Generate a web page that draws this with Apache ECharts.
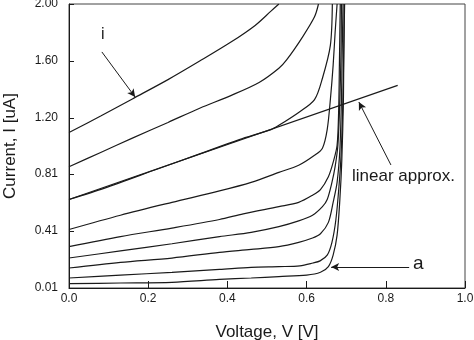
<!DOCTYPE html>
<html>
<head>
<meta charset="utf-8">
<script src="https://cdn.jsdelivr.net/npm/echarts@6/dist/echarts.min.js"></script>
<style>
html,body{margin:0;padding:0;background:#fff;}
#chart{width:474px;height:340px;}
</style>
</head>
<body>
<div id="chart"></div>
<script>
// Voltage (V) / current (uA) points, curves a..i (bottom to top)
const voltsA = [0, 0.13, 0.26, 0.38, 0.46, 0.53, 0.60, 0.635, 0.655, 0.667, 0.677, 0.684, 0.689, 0.693, 0.694, 0.696];
const currA  = [0.04, 0.045, 0.05, 0.07, 0.08, 0.09, 0.10, 0.12, 0.16, 0.24, 0.38, 0.63, 0.91, 1.33, 1.68, 2.00];
const voltsB = [0, 0.13, 0.26, 0.38, 0.46, 0.53, 0.583, 0.616, 0.634, 0.652, 0.664, 0.674, 0.682, 0.687, 0.691, 0.694, 0.695];
const currB  = [0.08, 0.10, 0.12, 0.14, 0.155, 0.16, 0.165, 0.185, 0.20, 0.24, 0.33, 0.49, 0.73, 0.94, 1.26, 1.68, 2.00];
const voltsC = [0, 0.13, 0.26, 0.38, 0.46, 0.53, 0.58, 0.615, 0.635, 0.655, 0.667, 0.677, 0.684, 0.688, 0.690, 0.692];
const currC  = [0.15, 0.19, 0.22, 0.26, 0.28, 0.30, 0.33, 0.36, 0.39, 0.47, 0.61, 0.75, 0.98, 1.33, 1.68, 2.00];
const voltsD = [0, 0.13, 0.26, 0.38, 0.46, 0.53, 0.58, 0.615, 0.64, 0.652, 0.664, 0.672, 0.679, 0.684, 0.687, 0.688];
const currD  = [0.22, 0.27, 0.32, 0.37, 0.40, 0.44, 0.48, 0.52, 0.58, 0.63, 0.75, 0.86, 1.01, 1.33, 1.68, 2.00];
const voltsE = [0, 0.13, 0.26, 0.38, 0.44, 0.53, 0.58, 0.615, 0.635, 0.655, 0.667, 0.677, 0.681, 0.683, 0.685];
const currE  = [0.30, 0.37, 0.43, 0.49, 0.53, 0.58, 0.61, 0.66, 0.70, 0.79, 0.89, 1.01, 1.26, 1.61, 2.00];
const voltsF = [0, 0.13, 0.26, 0.38, 0.46, 0.53, 0.58, 0.62, 0.64, 0.652, 0.66, 0.667, 0.672, 0.677];
const currF  = [0.42, 0.52, 0.61, 0.69, 0.75, 0.82, 0.87, 0.94, 0.99, 1.12, 1.33, 1.57, 1.80, 2.00];
const voltsG = [0, 0.09, 0.22, 0.33, 0.43, 0.51, 0.53, 0.58, 0.62, 0.64, 0.66, 0.665];
const currG  = [0.63, 0.71, 0.84, 0.95, 1.05, 1.12, 1.15, 1.24, 1.33, 1.48, 1.71, 2.00];
const voltsH = [0, 0.08, 0.16, 0.25, 0.33, 0.41, 0.48, 0.53, 0.55, 0.59, 0.62, 0.63];
const currH  = [0.86, 0.96, 1.06, 1.17, 1.27, 1.36, 1.45, 1.55, 1.61, 1.77, 1.91, 2.00];
const voltsI = [0, 0.08, 0.16, 0.25, 0.33, 0.41, 0.47, 0.51, 0.53];
const currI  = [1.10, 1.215, 1.335, 1.47, 1.60, 1.735, 1.85, 1.95, 2.00];
// linear approximation line (end points)
const voltsLin = [0, 0.83];
const currLin  = [0.63, 1.43];
// tick labels
const xTicks = [0.0, 0.2, 0.4, 0.6, 0.8, 1.0];
const yTicks = [0.01, 0.41, 0.81, 1.20, 1.60, 2.00];
// annotation arrows [fromV, fromI, toV, toI]
const arrowI   = [0.083, 1.664, 0.167, 1.348];
const arrowLin = [0.813, 0.872, 0.732, 1.313];
const arrowA   = [0.859, 0.157, 0.662, 0.157];

const FONT = '"Liberation Sans", Arial, sans-serif';
const INK = '#1a1a1a';

function pairs(v, c) { return v.map((x, i) => [x, c[i]]); }
const curves = [
  pairs(voltsA, currA), pairs(voltsB, currB), pairs(voltsC, currC),
  pairs(voltsD, currD), pairs(voltsE, currE), pairs(voltsF, currF),
  pairs(voltsG, currG), pairs(voltsH, currH), pairs(voltsI, currI)
];

function arrowLine(a) {
  return [{ coord: [a[0], a[1]] }, { coord: [a[2], a[3]] }];
}

const series = curves.map(d => ({
  type: 'line', data: d, showSymbol: false, smooth: 0.3,
  lineStyle: { color: INK, width: 1.2 }, silent: true, clip: true
}));
series.push({
  type: 'line', data: pairs(voltsLin, currLin), showSymbol: false,
  lineStyle: { color: INK, width: 1.2 }, silent: true,
  markLine: {
    silent: true, symbol: ['none', 'arrow'], symbolSize: [6, 8],
    lineStyle: { color: INK, width: 1, type: 'solid' },
    label: { show: false },
    data: [arrowLine(arrowI), arrowLine(arrowLin), arrowLine(arrowA)]
  }
});

const chart = echarts.init(document.getElementById('chart'), null, { renderer: 'canvas' });
chart.setOption({
  animation: false,
  backgroundColor: '#fff',
  grid: { left: 69, right: 9, top: 4, bottom: 52, show: true, borderColor: '#444', borderWidth: 1,
    containLabel: false, outerBoundsMode: 'none' },
  xAxis: {
    type: 'value', min: 0, max: 1, interval: 0.2,
    name: 'Voltage, V [V]', nameLocation: 'middle', nameGap: 36,
    nameTextStyle: { fontFamily: FONT, fontSize: 17, color: INK },
    axisLine: { lineStyle: { color: INK, width: 1 } },
    axisTick: { inside: true, length: 7, lineStyle: { color: INK } },
    axisLabel: { fontFamily: FONT, fontSize: 12, color: INK, margin: 5,
      customValues: xTicks, formatter: v => v.toFixed(1) },
    splitLine: { show: false }
  },
  yAxis: {
    type: 'value', min: 0.01, max: 2.0,
    name: 'Current, I [uA]', nameLocation: 'middle', nameGap: 50,
    nameTextStyle: { fontFamily: FONT, fontSize: 17, color: INK },
    axisLine: { show: true, lineStyle: { color: INK, width: 1 } },
    axisTick: { inside: true, length: 5, customValues: yTicks, lineStyle: { color: INK } },
    axisLabel: { fontFamily: FONT, fontSize: 12, color: INK, margin: 11,
      customValues: yTicks, formatter: v => v.toFixed(2) },
    splitLine: { show: false }
  },
  graphic: [
    { type: 'text', left: 101, top: 27, style: { text: 'i', font: '16px ' + FONT, fill: INK } },
    { type: 'text', left: 352, top: 168, style: { text: 'linear approx.', font: '17px ' + FONT, fill: INK } },
    { type: 'text', left: 413, top: 254, style: { text: 'a', font: '19px ' + FONT, fill: INK } }
  ],
  series: series
});
</script>
</body>
</html>
